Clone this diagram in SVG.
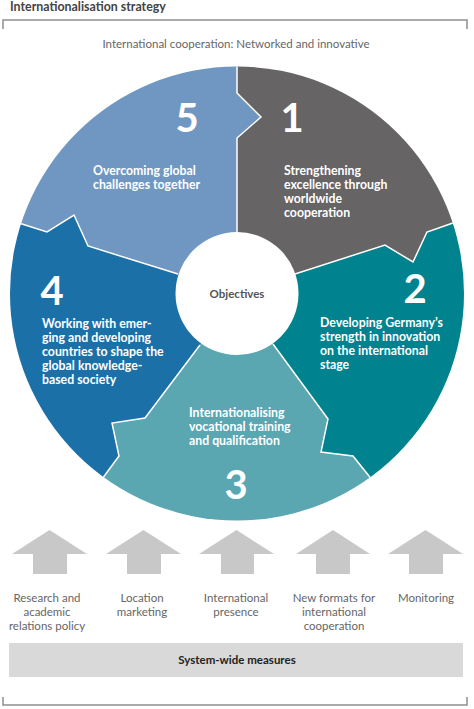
<svg xmlns="http://www.w3.org/2000/svg" width="474" height="709" viewBox="0 0 474 709">
<style>
.seg-t{font-family:Lato,"Open Sans","Liberation Sans",sans-serif;font-weight:700;font-size:12.3px;fill:#ffffff}
.num{font-family:Lato,"Open Sans","Liberation Sans",sans-serif;font-weight:700;font-size:40px;fill:#ffffff}
.lbl{font-family:Lato,"Open Sans","Liberation Sans",sans-serif;font-weight:400;font-size:11.5px;fill:#666666;text-anchor:middle}
.sep{fill:none;stroke:#ffffff;stroke-width:1.5;stroke-linejoin:miter}
.frame{fill:none;stroke:#8f8f8f;stroke-width:1.5}
.arrow{fill:#c8c8c8}
</style>
<defs>
<clipPath id="disc"><circle cx="237" cy="293.5" r="227"/></clipPath>
</defs>
<rect width="474" height="709" fill="#ffffff"/>
<text x="10" y="11" style="font-family:Lato,'Open Sans','Liberation Sans',sans-serif;font-weight:700;font-size:12.4px;fill:#444444">Internationalisation strategy</text>
<path class="frame" d="M3,29 V20 H467 V29"/>
<path class="frame" d="M3,697 V705 H467 V697"/>
<text x="236" y="48" class="lbl" style="font-size:11.5px">International cooperation: Networked and innovative</text>

<g clip-path="url(#disc)">
<g id="seg5"><path fill="#7097c1" d="M237,293.5 L178,274 L88,246 L74,215 L47,232 L22,224 L-40,204 L-40,-20 L237,-20 L237,93 L261,117 L237,138 Z"/></g>
<g id="seg1"><path fill="#666464" d="M237,293.5 L237,138 L261,117 L237,93 L237,-20 L520,-20 L520,200 L450,224 L427,232 L413,262 L385,245 L295,274 Z"/></g>
<g id="seg2"><path fill="#00838e" d="M237,293.5 L295,274 L385,245 L413,262 L427,232 L450,224 L520,200 L520,600 L410,600 L410,527 L369,476 L353,456 L321,452 L328,419 L273,344 Z"/></g>
<g id="seg3"><path fill="#5aa6b1" d="M237,293.5 L273,344 L328,419 L321,452 L353,456 L369,476 L410,527 L410,600 L75,600 L75,516 L105,475 L119,456 L112,423 L145,418 L200,345 Z"/></g>
<g id="seg4"><path fill="#1b70a7" d="M237,293.5 L200,345 L145,418 L112,423 L119,456 L105,475 L75,516 L75,600 L-40,600 L-40,204 L22,224 L47,232 L74,215 L88,246 L178,274 Z"/></g>
<g id="separators">
<path class="sep" d="M237,240 L237,138 L261,117 L237,93 L237,-20"/>
<path class="sep" d="M295,274 L385,245 L413,262 L427,232 L450,224 L520,200"/>
<path class="sep" d="M273,344 L328,419 L321,452 L353,456 L369,476 L410,527"/>
<path class="sep" d="M200,345 L145,418 L112,423 L119,456 L105,475 L75,516"/>
<path class="sep" d="M178,274 L88,246 L74,215 L47,232 L22,224 L-40,204"/>
</g>
</g>

<g id="objectives">
<circle cx="237" cy="293.5" r="61.5" fill="#ffffff"/>
<text x="237" y="297.5" text-anchor="middle" style="font-family:Lato,'Open Sans','Liberation Sans',sans-serif;font-weight:700;font-size:11.5px;fill:#555555">Objectives</text>
</g>

<g id="label5">
<text x="187" y="132" class="num" text-anchor="middle">5</text>
<text class="seg-t"><tspan x="93" y="175">Overcoming global</tspan><tspan x="93" y="189">challenges together</tspan></text>
</g>
<g id="label1">
<text x="292" y="132" class="num" text-anchor="middle">1</text>
<text class="seg-t"><tspan x="284" y="175">Strengthening</tspan><tspan x="284" y="189">excellence through</tspan><tspan x="284" y="203">worldwide</tspan><tspan x="284" y="217">cooperation</tspan></text>
</g>
<g id="label2">
<text x="415" y="303" class="num" text-anchor="middle">2</text>
<text class="seg-t"><tspan x="320" y="327">Developing Germany’s</tspan><tspan x="320" y="341">strength in innovation</tspan><tspan x="320" y="355">on the international</tspan><tspan x="320" y="369">stage</tspan></text>
</g>
<g id="label3">
<text x="236" y="499" class="num" text-anchor="middle">3</text>
<text class="seg-t"><tspan x="189" y="417">Internationalising</tspan><tspan x="189" y="431">vocational training</tspan><tspan x="189" y="445">and qualification</tspan></text>
</g>
<g id="label4">
<text x="52" y="305" class="num" text-anchor="middle">4</text>
<text class="seg-t"><tspan x="42" y="328">Working with emer-</tspan><tspan x="42" y="342">ging and developing</tspan><tspan x="42" y="356">countries to shape the</tspan><tspan x="42" y="370">global knowledge-</tspan><tspan x="42" y="384">based society</tspan></text>
</g>

<g id="connectors">
<path class="arrow" d="M12,554 L49.5,530 L87,554 L67,554 L67,574 L33,574 L33,554 Z"/>
<path class="arrow" d="M106,554 L143.5,530 L181,554 L161,554 L161,574 L127,574 L127,554 Z"/>
<path class="arrow" d="M199,554 L236.5,530 L274,554 L254,554 L254,574 L221,574 L221,554 Z"/>
<path class="arrow" d="M296,554 L333,530 L370,554 L350,554 L350,574 L316,574 L316,554 Z"/>
<path class="arrow" d="M388,554 L425.5,530 L463,554 L443,554 L443,574 L409,574 L409,554 Z"/>
</g>

<g id="measure1"><text class="lbl"><tspan x="47" y="602">Research and</tspan><tspan x="47" y="616">academic</tspan><tspan x="47" y="630">relations policy</tspan></text></g>
<g id="measure2"><text class="lbl"><tspan x="142" y="602">Location</tspan><tspan x="142" y="616">marketing</tspan></text></g>
<g id="measure3"><text class="lbl"><tspan x="236" y="602">International</tspan><tspan x="236" y="616">presence</tspan></text></g>
<g id="measure4"><text class="lbl"><tspan x="334" y="602">New formats for</tspan><tspan x="334" y="616">international</tspan><tspan x="334" y="630">cooperation</tspan></text></g>
<g id="measure5"><text class="lbl"><tspan x="426" y="602">Monitoring</tspan></text></g>

<g id="system">
<rect x="9" y="643" width="454" height="34" fill="#d9d9d9"/>
<text x="237" y="664" text-anchor="middle" style="font-family:Lato,'Open Sans','Liberation Sans',sans-serif;font-weight:700;font-size:11.5px;fill:#222222">System-wide measures</text>
</g>
</svg>
